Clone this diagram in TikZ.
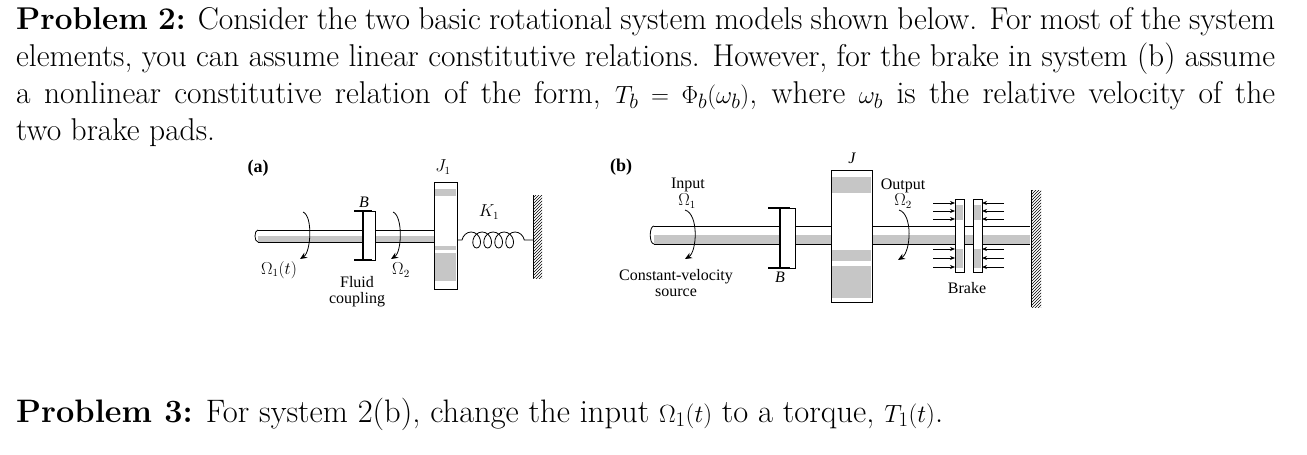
\documentclass[tikz,border=0pt]{standalone}
\usepackage{fontspec}
\newfontfamily\fig{Liberation Serif}
\usetikzlibrary{patterns,decorations.pathmorphing,arrows.meta}
\tikzset{
 txt/.style={anchor=base west,inner sep=0pt,font=\fontsize{31.5}{36}\selectfont},
 lab/.style={inner sep=0pt,font=\fig\fontsize{16}{16}\selectfont},
 shaft/.style={draw,line width=0.8pt},
 band/.style={fill=gray!45,draw=none},
 rot/.style={line width=0.8pt,-{Stealth[length=7pt,width=6pt]}},
 wall/.style={pattern=north east lines,draw=none},
 part/.style={draw,fill=white,line width=0.9pt},
 push/.style={line width=0.7pt,-{Stealth[length=5pt,width=4pt]}}
}
\begin{document}
\begin{tikzpicture}[x=1pt,y=-1pt]
\useasboundingbox (0,0) rectangle (1307,455);
\fill[white] (0,0) rectangle (1307,455);
% text
\node[txt] (l1) at (16,29) {\makebox[1259pt][s]{\textbf{Problem 2:} Consider the two basic rotational system models shown below. For most of the system}};
\node[txt] (l2) at (16,66) {\makebox[1259pt][s]{elements, you can assume linear constitutive relations. However, for the brake in system (b) assume}};
\node[txt] (l3) at (16,103) {\makebox[1259pt][s]{a nonlinear constitutive relation of the form, $T_b=\Phi_b(\omega_b)$, where $\omega_b$ is the relative velocity of the}};
\node[txt] (l4) at (16,140) {two brake pads.};
\node[txt,font=\fontsize{32.5}{36}\selectfont] (p3) at (16,422) {\textbf{Problem 3:} For system 2(b), change the input $\Omega_1(t)$ to a torque, $T_1(t)$.};
% ---------------- (a)
\node[lab,font=\fig\bfseries\fontsize{18}{18}\selectfont] (la) at (258,168) {(a)};
\fill[band] (258,236) rectangle (435,242);
\draw[shaft] (258,230) -- (435,230) (258,242) -- (435,242);
\draw[shaft] (258,230) .. controls (254,230) and (254,242) .. (258,242);
% rotation arrows
\draw[rot] (303,212) .. controls (313,216) and (311,252) .. (300,259);
\draw[rot] (393,212) .. controls (403,216) and (402,252) .. (391,259);
% coupling
\draw[part] (363,211) rectangle (375,260);
\draw[line width=1.6pt] (363,211) -- (363,260);
\draw[line width=1.2pt] (354,211) -- (372,211) (354,260) -- (372,260);
% disk
\draw[part] (434,182) rectangle (457,289);
\fill[band] (435,189) rectangle (456,196);
\fill[band] (435,246) rectangle (456,250);
\fill[band] (435,253) rectangle (456,281);
% spring
\draw[line width=0.8pt,decorate,decoration={coil,aspect=0.8,segment length=11pt,amplitude=8pt,pre length=5pt,post length=5pt}] (457,240) -- (534,240);
\fill[wall] (533,195) rectangle (542,278);
\draw[line width=0.6pt] (533,195) -- (533,278);
\node[lab] (K1) at (489,212) {$K_1$};
\node[lab] (J1) at (443,167) {$J_1$};
\node[lab] (B1) at (364,202) {\itshape B};
\node[lab] (O1) at (279,270) {$\Omega_1(t)$};
\node[lab] (O2) at (401,270) {$\Omega_2$};
\node[lab,align=center] (fc) at (357,292) {Fluid\\coupling};
% ---------------- (b)
\node[lab,font=\fig\bfseries\fontsize{18}{18}\selectfont] (lb) at (621,167) {(b)};
\fill[band] (654,235) rectangle (1030,244);
\draw[shaft] (654,226) -- (1030,226) (654,244) -- (1030,244);
\draw[shaft] (654,226) .. controls (649,226) and (649,244) .. (654,244);
\draw[rot] (685,210) .. controls (699,214) and (697,252) .. (685,259);
\draw[rot] (899,210) .. controls (913,214) and (911,252) .. (898,260);
% coupling
\draw[part] (780,208) rectangle (795,268);
\draw[line width=1.6pt] (780,208) -- (780,268);
\draw[line width=1.2pt] (768,208) -- (790,208) (768,268) -- (790,268);
% disk
\draw[part] (831,170) rectangle (872,302);
\fill[band] (832,177) rectangle (871,193);
\fill[band] (832,250) rectangle (871,261);
\fill[band] (832,266) rectangle (871,298);
% brake pads
\draw[part] (955,199) rectangle (964,272);
\draw[part] (973,199) rectangle (982,272);
\fill[band] (956,205) rectangle (963,220);
\fill[band] (956,249) rectangle (963,268);
\fill[band] (974,205) rectangle (981,220);
\fill[band] (974,249) rectangle (981,268);
\foreach \y in {203,211,219,249,258,267}{
 \draw[push] (933,\y) -- (955,\y);
 \draw[push] (1004,\y) -- (982,\y);}
\fill[wall] (1031,190) rectangle (1041,307);
\draw[line width=0.6pt] (1031,190) -- (1031,307);
\node[lab] (J) at (852,158) {\itshape J};
\node[lab] (inp) at (688,185) {Input};
\node[lab] (Om1) at (687,201) {$\Omega_1$};
\node[lab] (outp) at (903,186) {Output};
\node[lab] (Om2) at (903,201) {$\Omega_2$};
\node[lab] (Bb) at (780,277) {\itshape B};
\node[lab,align=center] (cvs) at (676,283) {Constant-velocity\\source};
\node[lab] (brk) at (967,288) {Brake};
\end{tikzpicture}
\end{document}
